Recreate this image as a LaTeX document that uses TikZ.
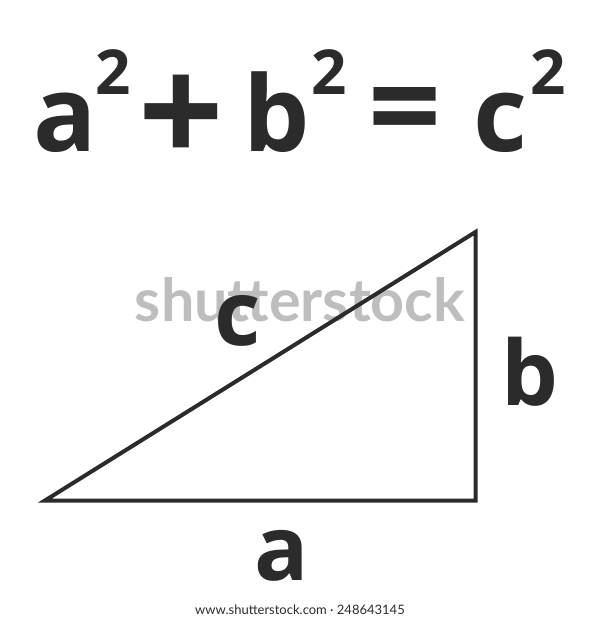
\documentclass[tikz,border=0pt]{standalone}
\usepackage{fontspec}
\setmainfont{Open Sans}
\newfontfamily\wmfont{Lato}
\definecolor{ink}{HTML}{2B2B2B}
\definecolor{wmgrey}{HTML}{BEBEBE}
\tikzset{
  big/.style={inner sep=0pt, text=ink, font=\fontsize{105}{105}\bfseries\selectfont},
  op/.style={inner sep=0pt, text=ink, font=\fontsize{150}{150}\bfseries\selectfont},
  sup/.style={inner sep=0pt, text=ink, font=\fontsize{62}{62}\bfseries\selectfont},
  side/.style={inner sep=0pt, text=ink, font=\fontsize{90}{90}\bfseries\selectfont},
  edge/.style={draw=ink, line width=4pt, line join=miter},
}
\begin{document}
\begin{tikzpicture}[x=1pt,y=-1pt]
\useasboundingbox (0,0) rectangle (600,620);
\fill[white] (0,0) rectangle (600,620);
% watermark
\node[inner sep=0pt, text=wmgrey] (wm) at (300,300) {\resizebox{330pt}{!}{\wmfont\bfseries shutterstock}};
% equation
\node[big, anchor=base west] (ea) at (33,152) {a};
\node[sup, anchor=base west] (ea2) at (95,95) {2};
\node[op, anchor=center] (plus) at (181,120) {+};
\node[big, anchor=base west] (eb) at (243,152) {b};
\node[sup, anchor=base west] (eb2) at (311,95) {2};
\node[op, anchor=center, font=\fontsize{128}{128}\bfseries\selectfont] (eq) at (405,120) {=};
\node[big, anchor=base west] (ec) at (473,152) {c};
\node[sup, anchor=base west] (ec2) at (530,95) {2};
% triangle
\coordinate (A) at (45,500.5);
\coordinate (B) at (475.5,500.5);
\coordinate (C) at (475.5,232);
\draw[edge] (A) -- (B) -- (C) -- cycle;
% side labels
\node[side, anchor=base west] (lc) at (214,345) {c};
\node[side, anchor=base west] (lb) at (501,405) {b};
\node[side, anchor=base west] (la) at (254,580) {a};
% footer
\node[inner sep=0pt, text=ink, font=\wmfont\fontsize{13}{13}\selectfont] (foot) at (300,610) {www.shutterstock.com · 248643145};
\end{tikzpicture}
\end{document}
